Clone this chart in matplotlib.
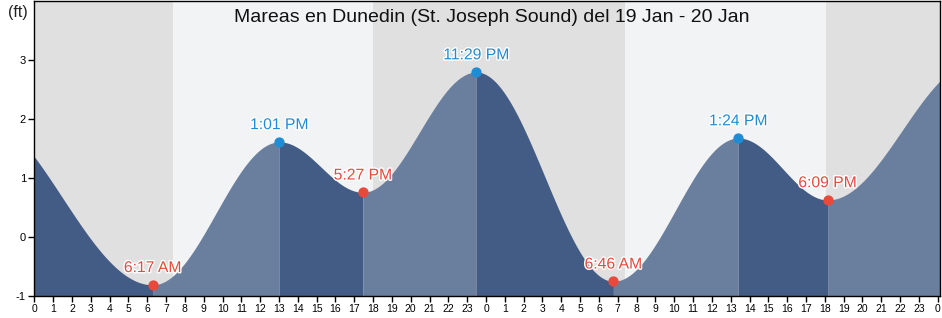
import numpy as np
import matplotlib
matplotlib.use("Agg")
import matplotlib.pyplot as plt
import matplotlib.patheffects as pe

plt.rcParams['font.family'] = ['Liberation Sans', 'DejaVu Sans']

title = "Mareas en Dunedin (St. Joseph Sound) del 19 Jan - 20 Jan"

# Tide extremes (hours since 19 Jan 00:00, height in ft)
extreme_hours = [6.283, 13.017, 17.45, 23.483, 30.767, 37.4, 42.15]
extreme_heights = [-0.81, 1.615, 0.76, 2.80, -0.75, 1.68, 0.63]
extreme_labels = ["6:17 AM", "1:01 PM", "5:27 PM", "11:29 PM", "6:46 AM", "1:24 PM", "6:09 PM"]
extreme_kinds = ["low", "high", "low", "high", "low", "high", "low"]

# Extremes just outside the visible window (estimated from the curve at the edges)
prev_extreme = (-3.3, 2.15)
next_extreme = (50.05, 2.98)

# Daylight periods (sunrise, sunset) in hours
daylight = [(7.35, 18.01), (31.37, 42.06)]

x_ticks = list(range(0, 49))
x_tick_labels = [str(h % 24) for h in x_ticks]
y_ticks = [-1, 0, 1, 2, 3]

XMAX = 48.12
YMIN, YMAX = -1, 4

night_color = '#e0e0e0'
day_color = '#f2f3f5'
fall_color = '#435c85'
rise_color = '#6a7e9e'
low_color = '#e8493a'
high_color = '#1f8dd6'

fig = plt.figure(figsize=(9.42, 3.18), dpi=100)
ax = fig.add_axes([34.3 / 942, 1 - 296 / 318, (940 - 34.3) / 942, (296 - 1.3) / 318])

# background bands
ax.axvspan(0, XMAX, color=night_color, zorder=0, lw=0)
for sr, ss in daylight:
    ax.axvspan(sr, ss, color=day_color, zorder=0.5, lw=0)

# curve through extremes (cosine between consecutive extremes)
pts_t = [prev_extreme[0]] + extreme_hours + [next_extreme[0]]
pts_h = [prev_extreme[1]] + extreme_heights + [next_extreme[1]]
for i in range(len(pts_t) - 1):
    t0, t1 = pts_t[i], pts_t[i + 1]
    h0, h1 = pts_h[i], pts_h[i + 1]
    a, b = max(t0, 0), min(t1, XMAX)
    if a >= b:
        continue
    t = np.linspace(a, b, 200)
    f = (t - t0) / (t1 - t0)
    h = h0 + (h1 - h0) * (1 - np.cos(np.pi * f)) / 2
    color = rise_color if h1 > h0 else fall_color
    ax.fill_between(t, YMIN, h, color=color, lw=0, zorder=2)

# markers and labels
for t, h, lab, kind in zip(extreme_hours, extreme_heights, extreme_labels, extreme_kinds):
    c = high_color if kind == "high" else low_color
    ax.scatter([t], [h], s=55, color=c, zorder=5, lw=0)
    ax.annotate(lab, (t, h), xytext=(0, 7), textcoords='offset points',
                ha='center', va='bottom', fontsize=11.3, color=c, zorder=6,
                path_effects=[pe.withStroke(linewidth=2, foreground='white')])

ax.set_xlim(0, XMAX)
ax.set_ylim(YMIN, YMAX)
ax.set_xticks(x_ticks)
ax.set_xticklabels(x_tick_labels, fontsize=7.5)
ax.set_yticks(y_ticks)
ax.set_yticklabels([str(v) for v in y_ticks], fontsize=8)
ax.tick_params(axis='both', length=4, width=1, color='black', pad=2)
for s in ax.spines.values():
    s.set_color('black')
    s.set_linewidth(1)

fig.text(492 / 942, 1 - 17 / 318, title, ha='center', va='center',
         fontsize=14, color='#111111', zorder=7)
fig.text(8 / 942, 1 - 13 / 318, "(ft)", ha='left', va='center', fontsize=11.5, color='#222222')

fig.savefig("out.png", dpi=100)
